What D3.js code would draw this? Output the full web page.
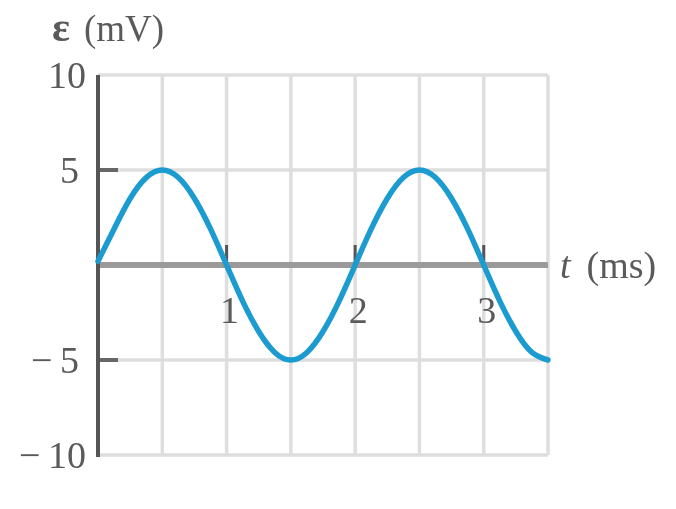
<!DOCTYPE html>
<html>
<head>
<meta charset="utf-8">
<script src="https://cdn.jsdelivr.net/npm/d3@7"></script>
<style>
  body { margin: 0; background: #fff; }
  text { font-family: "Liberation Serif", "DejaVu Serif", serif; fill: #5a5a5a; }
</style>
</head>
<body>
<svg id="chart" width="676" height="509"></svg>
<script>
// values, every 0.125 ms
var times = [0, 0.125, 0.25, 0.375, 0.5, 0.625, 0.75, 0.875, 1, 1.125, 1.25, 1.375, 1.5, 1.625, 1.75, 1.875,
             2, 2.125, 2.25, 2.375, 2.5, 2.625, 2.75, 2.875, 3, 3.125, 3.25, 3.375, 3.5],
    emf   = [0.2, 1.9, 3.5, 4.6, 5, 4.6, 3.5, 1.9, 0, -1.9, -3.5, -4.6, -5, -4.6, -3.5, -1.9,
             0, 1.9, 3.5, 4.6, 5, 4.6, 3.5, 1.9, 0, -1.9, -3.5, -4.6, -5];

var xGrid = [0.5, 1, 1.5, 2, 2.5, 3, 3.5],
    yGrid = [10, 5, -5, -10],
    xTickLabels = [1, 2, 3],
    yTickLabels = [10, 5, -5, -10],
    yTickMarks = [5, -5];

var svg = d3.select('#chart');

svg.append('defs').append('filter').attr('id', 'soft')
    .append('feGaussianBlur').attr('stdDeviation', 0.6);

var root = svg.append('g').attr('filter', 'url(#soft)');

var x = d3.scaleLinear().domain([0, 3.5]).range([98, 548]),
    y = d3.scaleLinear().domain([-10, 10]).range([455, 75]);

var grid_color = '#dedede';

// grid
root.append('g').selectAll('line').data(xGrid).enter().append('line')
    .attr('x1', x).attr('x2', x)
    .attr('y1', y(10)).attr('y2', y(-10))
    .attr('stroke', grid_color).attr('stroke-width', 3.5);

root.append('g').selectAll('line').data(yGrid).enter().append('line')
    .attr('x1', x(0)).attr('x2', x(3.5))
    .attr('y1', y).attr('y2', y)
    .attr('stroke', grid_color).attr('stroke-width', 3.5);

// t axis at zero
root.append('line')
    .attr('x1', x(0)).attr('x2', x(3.5))
    .attr('y1', y(0)).attr('y2', y(0))
    .attr('stroke', '#9a9a9a').attr('stroke-width', 6);

// small ticks above t axis
root.append('g').selectAll('line').data(xTickLabels).enter().append('line')
    .attr('x1', x).attr('x2', x)
    .attr('y1', y(0) - 20).attr('y2', y(0))
    .attr('stroke', '#555').attr('stroke-width', 3);

// y ticks
root.append('g').selectAll('line').data(yTickMarks).enter().append('line')
    .attr('x1', x(0)).attr('x2', x(0) + 20)
    .attr('y1', y).attr('y2', y)
    .attr('stroke', '#666').attr('stroke-width', 4);

// emf axis
root.append('line')
    .attr('x1', x(0)).attr('x2', x(0))
    .attr('y1', y(10)).attr('y2', y(-10) + 2)
    .attr('stroke', '#555').attr('stroke-width', 4);

// curve
var line = d3.line()
    .x((d, i) => x(times[i]))
    .y(d => y(d))
    .curve(d3.curveNatural);

root.append('path')
    .attr('d', line(emf))
    .attr('fill', 'none')
    .attr('stroke', '#1d9bd0')
    .attr('stroke-width', 5.5)
    .attr('stroke-linecap', 'round');

// tick labels
root.append('g').selectAll('text').data(yTickLabels).enter().append('text')
    .attr('x', d => Math.abs(d) === 10 ? 86 : 79)
    .attr('y', y)
    .attr('dy', '0.34em')
    .attr('text-anchor', 'end')
    .attr('font-size', 38)
    .text(d => d < 0 ? '\u2212\u2009' + Math.abs(d) : d);

root.append('g').selectAll('text').data(xTickLabels).enter().append('text')
    .attr('x', d => x(d) + 3)
    .attr('y', y(0) + 58)
    .attr('text-anchor', 'middle')
    .attr('font-size', 38)
    .text(d => d);

// axis titles
var ylab = root.append('text').attr('x', 52).attr('y', 41).attr('font-size', 37);
ylab.append('tspan').attr('font-size', 42).attr('font-weight', 'bold').text('\u03b5');
ylab.append('tspan').attr('dx', 14).text('(mV)');

var xlab = root.append('text').attr('x', 560).attr('y', 278).attr('font-size', 38);
xlab.append('tspan').attr('font-style', 'italic').text('t');
xlab.append('tspan').attr('dx', 16).text('(ms)');
</script>
</body>
</html>
